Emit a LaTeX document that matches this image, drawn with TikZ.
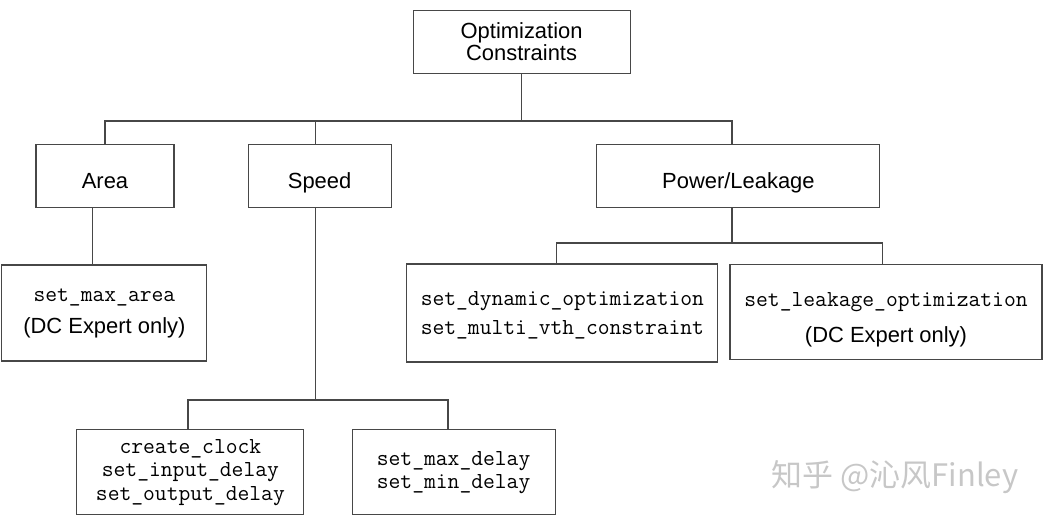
\documentclass[tikz,border=0pt]{standalone}
\usepackage{fontspec}
\setmainfont{Liberation Sans}
\newfontfamily\cjkfont{Noto Sans CJK SC}
\newcommand{\plainfont}{\rmfamily\fontsize{15.6}{16.7}\selectfont}

\begin{document}
\begin{tikzpicture}[
  x=1cm,
  y=1cm,
  box/.style={draw=black!72, line width=0.8pt, align=center, inner sep=0pt,
    font=\fontsize{15.6}{15.4}\selectfont},
  head/.style={box, minimum height=1.575cm, text height=0.58cm, text depth=0cm},
  cmdbox/.style={box, font=\fontsize{16.3}{16.7}\selectfont\ttfamily},
  tree/.style={draw=black!72, line width=0.8pt},
  watermark/.style={font=\cjkfont\fontsize{22}{22}\selectfont, text=black!22}
]
\useasboundingbox (0,0) rectangle (26.15,-13.1);
% top level
\node[box, minimum width=5.425cm, minimum height=1.575cm] (opt) at (13.04,-1.04)
  {Optimization\\Constraints};
% second level
\node[head, minimum width=3.45cm] (area) at (2.625,-4.41) {Area};
\node[head, minimum width=3.575cm] (speed) at (7.99,-4.41) {Speed};
\node[head, minimum width=7.075cm] (power) at (18.46,-4.41) {Power/Leakage};
% commands
\node[cmdbox, minimum width=5.125cm, minimum height=2.4cm] (maxarea) at (2.61,-7.825)
  {set\_max\_area\\[6pt]{\plainfont (DC Expert only)}};
\node[cmdbox, minimum width=7.775cm, minimum height=2.45cm] (dynamic) at (14.06,-7.825)
  {\rule{0pt}{13pt}set\_dynamic\_optimization\\[3.5pt]set\_multi\_vth\_constraint};
\node[cmdbox, minimum width=7.8cm, minimum height=2.375cm] (leakage) at (22.15,-7.81)
  {\rule{0pt}{20.5pt}set\_leakage\_optimization\\[9.4pt]{\plainfont (DC Expert only)}};
\node[cmdbox, minimum width=5.675cm, minimum height=2.125cm] (clock) at (4.76,-11.81)
  {create\_clock\\set\_input\_delay\\set\_output\_delay};
\node[cmdbox, minimum width=5.075cm, minimum height=2.125cm] (delay) at (11.34,-11.81)
  {set\_max\_delay\\set\_min\_delay};
\node[watermark] (zhihu) at (22.375,-11.93) {知乎 @沁风Finley};
% connectors
\coordinate (bus) at (0,-3.025);
\coordinate (busp) at (0,-6.075);
\coordinate (buss) at (0,-10);
\draw[tree] (opt.south) -- (opt.south |- bus);
\draw[tree] (area.north) -- (area.north |- bus) -- ([xshift=-0.16cm]power.north |- bus)
  -- ([xshift=-0.16cm]power.north);
\draw[tree] ([xshift=-0.11cm]speed.north) -- ([xshift=-0.11cm]speed.north |- bus);
\draw[tree] ([xshift=-0.31cm]area.south) -- ([xshift=-0.31cm]area.south |- maxarea.north);
\draw[tree] ([xshift=-0.11cm]speed.south) -- ([xshift=-0.11cm]speed.south |- buss);
\draw[tree] ([xshift=-0.06cm]clock.north) |- ([xshift=-0.14cm]delay.north |- buss)
  -- ([xshift=-0.14cm]delay.north);
\draw[tree] ([xshift=-0.16cm]power.south) -- ([xshift=-0.16cm]power.south |- busp);
\draw[tree] ([xshift=-0.14cm]dynamic.north) |- ([xshift=-0.08cm]leakage.north |- busp)
  -- ([xshift=-0.08cm]leakage.north);
\end{tikzpicture}
\end{document}
